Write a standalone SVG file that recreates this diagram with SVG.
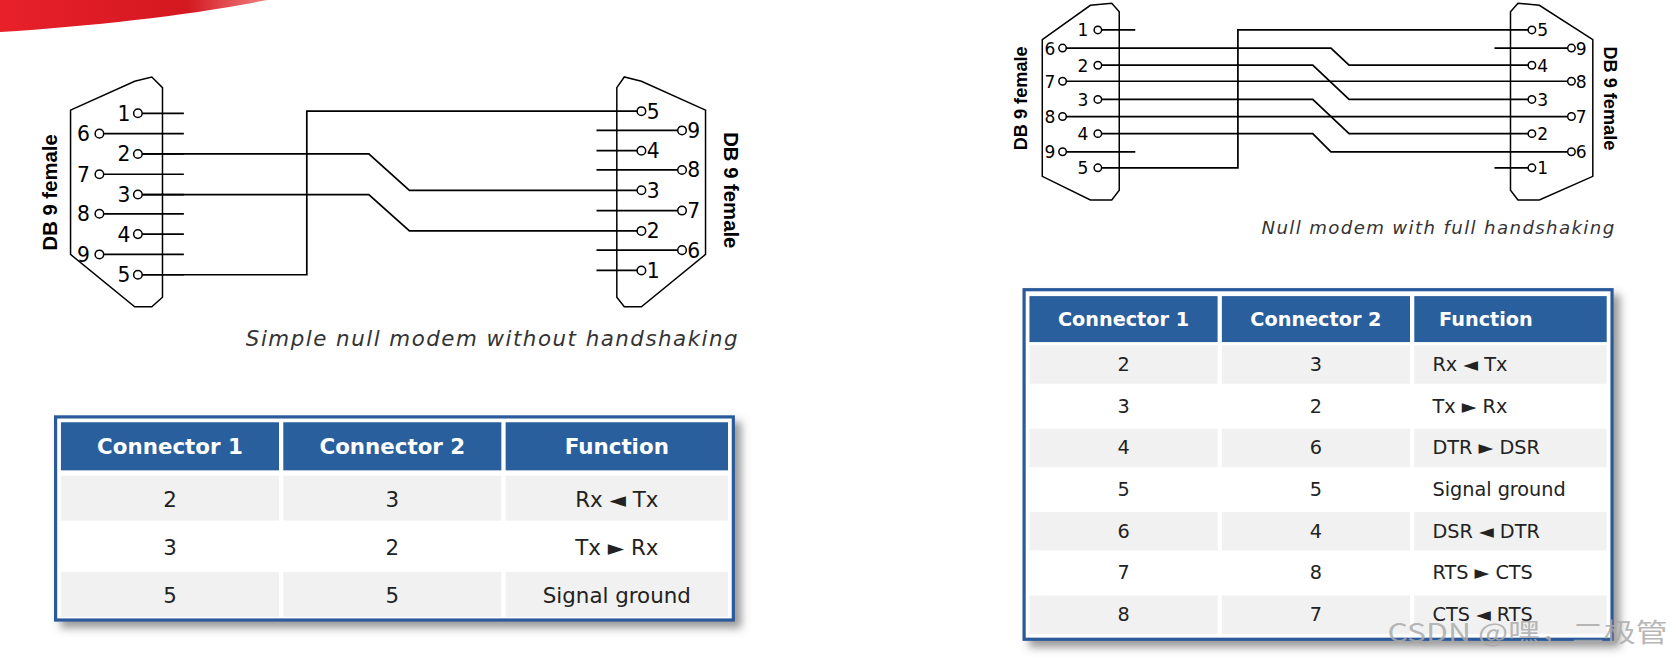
<svg xmlns="http://www.w3.org/2000/svg" width="1676" height="663" viewBox="0 0 1676 663">
<defs>
<linearGradient id="red" x1="0" y1="0" x2="1" y2="0"><stop offset="0" stop-color="#e8202a"/><stop offset="0.7" stop-color="#d41820"/><stop offset="1" stop-color="#f08080"/></linearGradient>
<filter id="sh" x="-5%" y="-5%" width="115%" height="120%"><feDropShadow dx="6" dy="6" stdDeviation="4" flood-color="#555" flood-opacity="0.6"/></filter>
</defs>
<style>
.w{fill:none;stroke:#000;stroke-width:1.6}
.o{fill:none;stroke:#000;stroke-width:1.4}
.c{fill:#fff;stroke:#000;stroke-width:1.4}
.p{font-family:"DejaVu Sans",sans-serif;font-size:19px;fill:#000}
.p2{font-family:"DejaVu Sans",sans-serif;font-size:16px;fill:#000}
.db{font-family:"Liberation Sans",sans-serif;font-weight:bold;font-size:19px;fill:#000}
.db2{font-family:"Liberation Sans",sans-serif;font-weight:bold;font-size:17px;fill:#000}
.cap{font-family:"DejaVu Sans",sans-serif;font-style:italic;font-size:20px;fill:#333}
.cap2{font-family:"DejaVu Sans",sans-serif;font-style:italic;font-size:17px;fill:#333}
.hd{fill:#2a5f9e}
.rw{fill:#f1f1f1}
.ht{font-family:"DejaVu Sans",sans-serif;font-weight:bold;font-size:20px;fill:#fff;text-anchor:middle}
.ht2{font-family:"DejaVu Sans",sans-serif;font-weight:bold;font-size:18px;fill:#fff;text-anchor:middle}
.tt{font-family:"DejaVu Sans",sans-serif;font-size:20px;fill:#222;text-anchor:middle}
.tt2{font-family:"DejaVu Sans",sans-serif;font-size:18px;fill:#222}
</style>
<rect width="1676" height="663" fill="#fff"/>
<g transform="scale(1.069)">
<path d="M0,0 L250,0 C180,14 90,24 0,30 Z" fill="url(#red)"/>

<g id="left-conn-a">
<path class="o" d="M66,103 L126,76 L142,72 L152,82 L152,278 L142,287 L126,287 L66,238 Z"/>
<text class="db" transform="translate(53,180) rotate(-90)" text-anchor="middle">DB 9 female</text>
<g class="p"><text x="110" y="113">1</text><text x="110" y="151">2</text><text x="110" y="189">3</text><text x="110" y="226">4</text><text x="110" y="264">5</text>
<text x="72" y="132">6</text><text x="72" y="170">7</text><text x="72" y="207">8</text><text x="72" y="245">9</text></g>
<path class="w" d="M133,106H172M133,144H172M133,182H172M133,219H172M133,257H172M97,125H172M97,163H172M97,200H172M97,238H172"/>
<g class="c"><circle cx="129" cy="106" r="4"/><circle cx="129" cy="144" r="4"/><circle cx="129" cy="182" r="4"/><circle cx="129" cy="219" r="4"/><circle cx="129" cy="257" r="4"/><circle cx="93" cy="125" r="4"/><circle cx="93" cy="163" r="4"/><circle cx="93" cy="200" r="4"/><circle cx="93" cy="238" r="4"/></g>
</g>
<g id="left-conn-b">
<path class="o" d="M660,103 L600,76 L584,72 L577,82 L577,278 L584,287 L600,287 L660,238 Z"/>
<text class="db" transform="translate(677,178) rotate(90)" text-anchor="middle">DB 9 female</text>
<g class="p"><text x="605" y="111">5</text><text x="605" y="148">4</text><text x="605" y="185">3</text><text x="605" y="223">2</text><text x="605" y="260">1</text>
<text x="643" y="129">9</text><text x="643" y="166">8</text><text x="643" y="204">7</text><text x="643" y="241">6</text></g>
<path class="w" d="M558,141H596M558,253H596M558,122H634M558,159H634M558,197H634M558,234H634"/>
<g class="c"><circle cx="600" cy="104" r="4"/><circle cx="600" cy="141" r="4"/><circle cx="600" cy="178" r="4"/><circle cx="600" cy="216" r="4"/><circle cx="600" cy="253" r="4"/><circle cx="638" cy="122" r="4"/><circle cx="638" cy="159" r="4"/><circle cx="638" cy="197" r="4"/><circle cx="638" cy="234" r="4"/></g>
</g>
<g id="left-wires">
<path class="w" d="M133,257H287V104H596"/>
<path class="w" d="M133,144H345L383,178H596"/>
<path class="w" d="M133,182H345L383,216H596"/>
</g>
<text class="cap" x="230" y="324" textLength="460" lengthAdjust="spacing">Simple null modem without handshaking</text>

<g id="left-table">
<rect x="52" y="390" width="634" height="190" fill="#fff" stroke="#2a5a9a" stroke-width="3" filter="url(#sh)"/>
<rect class="hd" x="57" y="395" width="204" height="45"/><rect class="hd" x="265" y="395" width="204" height="45"/><rect class="hd" x="473" y="395" width="208" height="45"/>
<text class="ht" x="159" y="425">Connector 1</text><text class="ht" x="367" y="425">Connector 2</text><text class="ht" x="577" y="425">Function</text>
<rect class="rw" x="57" y="445" width="204" height="42"/><rect class="rw" x="265" y="445" width="204" height="42"/><rect class="rw" x="473" y="445" width="208" height="42"/>
<rect class="rw" x="57" y="535" width="204" height="42"/><rect class="rw" x="265" y="535" width="204" height="42"/><rect class="rw" x="473" y="535" width="208" height="42"/>
<text class="tt" x="159" y="474">2</text><text class="tt" x="367" y="474">3</text><text class="tt" x="577" y="474">Rx ◄ Tx</text>
<text class="tt" x="159" y="519">3</text><text class="tt" x="367" y="519">2</text><text class="tt" x="577" y="519">Tx ► Rx</text>
<text class="tt" x="159" y="564">5</text><text class="tt" x="367" y="564">5</text><text class="tt" x="577" y="564">Signal ground</text>
</g>

<g id="right-conn-a">
<path class="o" d="M975,37 L1020,5 L1040,3 L1047,11 L1047,178 L1040,187 L1020,187 L975,165 Z"/>
<text class="db2" transform="translate(961,92) rotate(-90)" text-anchor="middle">DB 9 female</text>
<g class="p2"><text x="1008" y="34">1</text><text x="1008" y="67">2</text><text x="1008" y="99">3</text><text x="1008" y="131">4</text><text x="1008" y="163">5</text>
<text x="977" y="51">6</text><text x="977" y="82">7</text><text x="977" y="115">8</text><text x="977" y="148">9</text></g>
<path class="w" d="M1030,28H1062M997,142H1062"/>
<g class="c"><circle cx="1027" cy="28" r="3.5"/><circle cx="1027" cy="61" r="3.5"/><circle cx="1027" cy="93" r="3.5"/><circle cx="1027" cy="125" r="3.5"/><circle cx="1027" cy="157" r="3.5"/><circle cx="994" cy="45" r="3.5"/><circle cx="994" cy="76" r="3.5"/><circle cx="994" cy="109" r="3.5"/><circle cx="994" cy="142" r="3.5"/></g>
</g>
<g id="right-conn-b">
<path class="o" d="M1490,37 L1440,5 L1420,3 L1413,11 L1413,178 L1420,187 L1440,187 L1490,165 Z"/>
<text class="db2" transform="translate(1500,92) rotate(90)" text-anchor="middle">DB 9 female</text>
<g class="p2"><text x="1438" y="34">5</text><text x="1438" y="67">4</text><text x="1438" y="99">3</text><text x="1438" y="131">2</text><text x="1438" y="163">1</text>
<text x="1474" y="51">9</text><text x="1474" y="82">8</text><text x="1474" y="115">7</text><text x="1474" y="148">6</text></g>
<path class="w" d="M1398,45H1466M1398,157H1430"/>
<g class="c"><circle cx="1433" cy="28" r="3.5"/><circle cx="1433" cy="61" r="3.5"/><circle cx="1433" cy="93" r="3.5"/><circle cx="1433" cy="125" r="3.5"/><circle cx="1433" cy="157" r="3.5"/><circle cx="1470" cy="45" r="3.5"/><circle cx="1470" cy="76" r="3.5"/><circle cx="1470" cy="109" r="3.5"/><circle cx="1470" cy="142" r="3.5"/></g>
</g>
<g id="right-wires">
<path class="w" d="M1030,157H1158V28H1430"/>
<path class="w" d="M997,45H1245L1262,61H1430"/>
<path class="w" d="M1030,61H1228L1262,93H1430"/>
<path class="w" d="M997,76H1466"/>
<path class="w" d="M1030,93H1228L1262,125H1430"/>
<path class="w" d="M997,109H1466"/>
<path class="w" d="M1030,125H1228L1245,142H1466"/>
</g>
<text class="cap2" x="1180" y="219" textLength="330" lengthAdjust="spacing">Null modem with full handshaking</text>

<g id="right-table">
<rect x="958" y="271" width="550" height="327" fill="#fff" stroke="#2a5a9a" stroke-width="3" filter="url(#sh)"/>
<rect class="hd" x="963" y="277" width="176" height="43"/><rect class="hd" x="1143" y="277" width="176" height="43"/><rect class="hd" x="1323" y="277" width="180" height="43"/>
<text class="ht2" x="1051" y="305">Connector 1</text><text class="ht2" x="1231" y="305">Connector 2</text><text class="ht2" x="1390" y="305">Function</text>
<g class="rw">
<rect x="963" y="323" width="176" height="36"/><rect x="1143" y="323" width="176" height="36"/><rect x="1323" y="323" width="180" height="36"/>
<rect x="963" y="401" width="176" height="36"/><rect x="1143" y="401" width="176" height="36"/><rect x="1323" y="401" width="180" height="36"/>
<rect x="963" y="479" width="176" height="36"/><rect x="1143" y="479" width="176" height="36"/><rect x="1323" y="479" width="180" height="36"/>
<rect x="963" y="557" width="176" height="36"/><rect x="1143" y="557" width="176" height="36"/><rect x="1323" y="557" width="180" height="36"/>
</g>
<g class="tt2">
<text x="1051" y="347" text-anchor="middle">2</text><text x="1231" y="347" text-anchor="middle">3</text><text x="1340" y="347">Rx ◄ Tx</text>
<text x="1051" y="386" text-anchor="middle">3</text><text x="1231" y="386" text-anchor="middle">2</text><text x="1340" y="386">Tx ► Rx</text>
<text x="1051" y="425" text-anchor="middle">4</text><text x="1231" y="425" text-anchor="middle">6</text><text x="1340" y="425">DTR ► DSR</text>
<text x="1051" y="464" text-anchor="middle">5</text><text x="1231" y="464" text-anchor="middle">5</text><text x="1340" y="464">Signal ground</text>
<text x="1051" y="503" text-anchor="middle">6</text><text x="1231" y="503" text-anchor="middle">4</text><text x="1340" y="503">DSR ◄ DTR</text>
<text x="1051" y="542" text-anchor="middle">7</text><text x="1231" y="542" text-anchor="middle">8</text><text x="1340" y="542">RTS ► CTS</text>
<text x="1051" y="581" text-anchor="middle">8</text><text x="1231" y="581" text-anchor="middle">7</text><text x="1340" y="581">CTS ◄ RTS</text>
</g>
</g>
<text x="1298" y="601" font-family="'Noto Sans CJK SC',sans-serif" font-size="24" fill="#aaa" fill-opacity="0.85" textLength="262" lengthAdjust="spacingAndGlyphs">CSDN @嘿，二极管</text>
</g>
</svg>
